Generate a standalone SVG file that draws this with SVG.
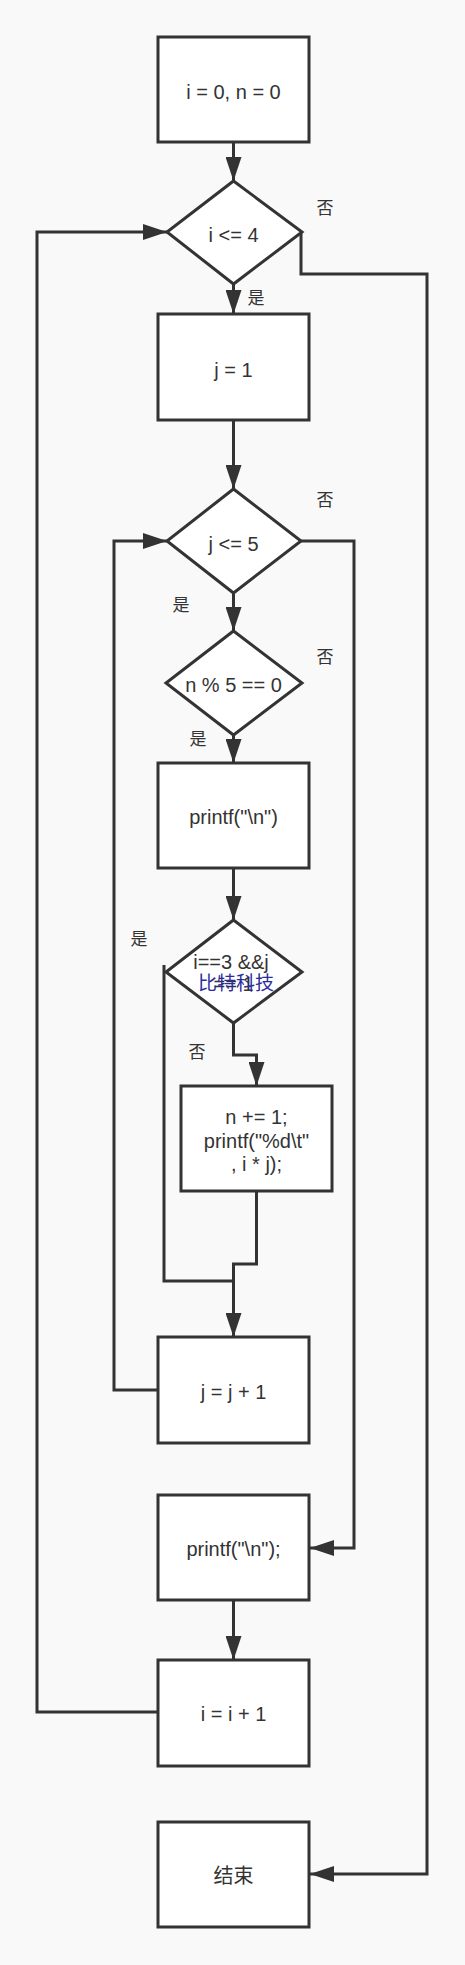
<svg xmlns="http://www.w3.org/2000/svg" width="465" height="1965" viewBox="0 0 465 1965">
<style>
.bg{fill:#f9f9f9}
.node{fill:#ffffff;stroke:#333333;stroke-width:3}
.edge{fill:none;stroke:#333333;stroke-width:3}
.t{font-family:"Liberation Sans","Noto Sans CJK SC",sans-serif;font-size:20px;fill:#333333;text-anchor:middle;dominant-baseline:central}
.lbl{font-family:"Noto Sans CJK SC",sans-serif;font-size:17px;fill:#333333;text-anchor:middle;dominant-baseline:central}
.wm{font-family:"Noto Sans CJK SC",sans-serif;font-size:19px;fill:#2b2b9c;text-anchor:middle;dominant-baseline:central}
</style>
<defs>
<marker id="arr" markerUnits="userSpaceOnUse" markerWidth="24" markerHeight="16" refX="24" refY="8" orient="auto">
<path d="M0,0 L24,8 L0,16 z" fill="#333333"/>
</marker>
</defs>
<rect class="bg" x="0" y="0" width="465" height="1965"/>
<g id="connectors">
<path class="edge" d="M233.5,142 L233.5,181" marker-end="url(#arr)"/>
<path class="edge" d="M233.5,284 L233.5,314" marker-end="url(#arr)"/>
<path class="edge" d="M301,232 L301,274 L427,274 L427,1874 L310,1874" marker-end="url(#arr)"/>
<path class="edge" d="M158,1712 L37,1712 L37,232 L167,232" marker-end="url(#arr)"/>
<path class="edge" d="M233.5,420 L233.5,489" marker-end="url(#arr)"/>
<path class="edge" d="M301,541 L354,541 L354,1548 L310,1548" marker-end="url(#arr)"/>
<path class="edge" d="M233.5,593 L233.5,631" marker-end="url(#arr)"/>
<path class="edge" d="M233.5,735 L233.5,763" marker-end="url(#arr)"/>
<path class="edge" d="M233.5,868 L233.5,920" marker-end="url(#arr)"/>
<path class="edge" d="M233.5,1023 L233.5,1055 L256.5,1055 L256.5,1086" marker-end="url(#arr)"/>
<path class="edge" d="M164,965 L164,1281 L233.5,1281"/>
<path class="edge" d="M256.5,1191 L256.5,1264 L233.5,1264 L233.5,1337" marker-end="url(#arr)"/>
<path class="edge" d="M158,1390 L114,1390 L114,541 L167,541" marker-end="url(#arr)"/>
<path class="edge" d="M233.5,1600 L233.5,1660" marker-end="url(#arr)"/>
</g>
<g id="labels">
<text class="lbl" x="325" y="206">否</text>
<text class="lbl" x="256" y="296">是</text>
<text class="lbl" x="325" y="498">否</text>
<text class="lbl" x="181" y="603">是</text>
<text class="lbl" x="325" y="655">否</text>
<text class="lbl" x="198" y="737">是</text>
<text class="lbl" x="139" y="937">是</text>
<text class="lbl" x="197" y="1050">否</text>
</g>
<g id="n-init">
<rect class="node" x="158" y="37" width="151" height="105"/>
<text class="t" x="233.5" y="92">i = 0, n = 0</text>
</g>
<g id="n-cond-i">
<polygon class="node" points="233.5,181 302,232 233.5,284 167,232"/>
<text class="t" x="233.5" y="235">i &lt;= 4</text>
</g>
<g id="n-j1">
<rect class="node" x="158" y="314" width="151" height="106"/>
<text class="t" x="233.5" y="370">j = 1</text>
</g>
<g id="n-cond-j">
<polygon class="node" points="233.5,489 301,541 233.5,593 167,541"/>
<text class="t" x="233.5" y="544">j &lt;= 5</text>
</g>
<g id="n-cond-n">
<polygon class="node" points="233.5,631 302,683 233.5,735 166,683"/>
<text class="t" x="233.5" y="685">n % 5 == 0</text>
</g>
<g id="n-printf1">
<rect class="node" x="158" y="763" width="151" height="105"/>
<text class="t" x="233.5" y="817">printf("\n")</text>
</g>
<g id="n-cond-ij">
<polygon class="node" points="233.5,920 302,972 233.5,1023 166,972"/>
<text class="t" x="231" y="962">i==3 &amp;&amp;j</text>
<text class="t" x="233.5" y="984">== 1</text>
<text class="wm" x="236" y="981">比特科技</text>
</g>
<g id="n-body">
<rect class="node" x="181" y="1086" width="151" height="105"/>
<text class="t" x="256.5" y="1117">n += 1;</text>
<text class="t" x="256.5" y="1141">printf("%d\t"</text>
<text class="t" x="256.5" y="1164">, i * j);</text>
</g>
<g id="n-jinc">
<rect class="node" x="158" y="1337" width="151" height="106"/>
<text class="t" x="233.5" y="1392">j = j + 1</text>
</g>
<g id="n-printf2">
<rect class="node" x="158" y="1495" width="151" height="105"/>
<text class="t" x="233.5" y="1549">printf("\n");</text>
</g>
<g id="n-iinc">
<rect class="node" x="158" y="1660" width="151" height="106"/>
<text class="t" x="233.5" y="1714">i = i + 1</text>
</g>
<g id="n-end">
<rect class="node" x="158" y="1822" width="151" height="105"/>
<text class="t" x="233.5" y="1876">结束</text>
</g>
</svg>
